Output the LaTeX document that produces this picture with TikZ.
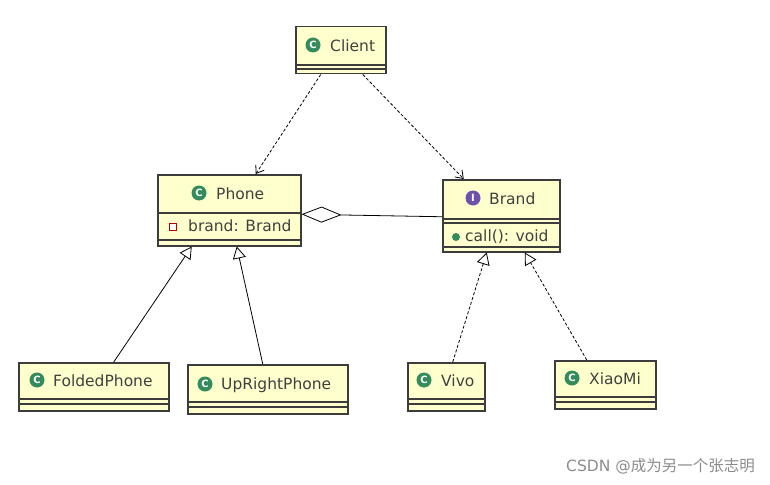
\documentclass[tikz,border=0pt]{standalone}
\usepackage{fontspec}
\setmainfont{DejaVu Sans}
\newfontfamily\cjk{Noto Sans CJK SC}
\usetikzlibrary{arrows.meta}
\definecolor{umlfill}{RGB}{255,255,206}
\definecolor{umlline}{RGB}{60,60,60}
\definecolor{cicon}{RGB}{52,140,92}
\definecolor{iicon}{RGB}{110,80,170}
\tikzset{
  box/.style={draw=umlline, fill=umlfill, line width=1.5pt, inner sep=0pt, anchor=north west},
  bar/.style={draw=umlline, line width=1.2pt},
  lbl/.style={font=\fontsize{15.5}{17}\selectfont, text=black!75, anchor=west, inner sep=0pt},
  icon/.style={circle, fill=#1, inner sep=0pt, minimum size=15pt, text=white, font=\bfseries\fontsize{10}{10}\selectfont},
  dep/.style={densely dashed, line width=0.8pt, -{Straight Barb[length=7pt,width=10pt]}},
  gen/.style={line width=0.8pt, -{Triangle[open,length=12pt,width=13pt,fill=white]}},
  real/.style={gen, densely dashed}
}
\begin{document}
\begin{tikzpicture}[x=1pt,y=-1pt]
\useasboundingbox (0,0) rectangle (770,484);
% classes
\node[box, minimum width=90, minimum height=47] (client) at (295,26) {};
\draw[bar] (295,65) -- (385,65) (295,69) -- (385,69);
\node[icon=cicon] at (313,45) {C};
\node[lbl] at (330,46) {Client};
\node[box, minimum width=143, minimum height=71] (phone) at (157,174) {};
\draw[bar] (157,213) -- (300,213) (157,240) -- (300,240);
\node[icon=cicon] at (199,193) {C};
\node[lbl] at (216,194) {Phone};
\draw[red!70!black, fill=white, line width=0.8pt] (169,223) rectangle (176,230);
\node[lbl] at (188,226) {brand: Brand};
\node[box, minimum width=117, minimum height=72] (brand) at (442,179) {};
\draw[bar] (442,219) -- (559,219) (442,223) -- (559,223) (442,247) -- (559,247);
\node[icon=iicon] at (473,198) {I};
\node[lbl] at (489,199) {Brand};
\fill[cicon] (456,237) circle (4);
\node[lbl] at (465,237) {call(): void};
\node[box, minimum width=150, minimum height=48] (folded) at (18,362) {};
\draw[bar] (18,399) -- (168,399) (18,404) -- (168,404);
\node[icon=cicon] at (37,380) {C};
\node[lbl] at (53,381) {FoldedPhone};
\node[box, minimum width=160, minimum height=49] (upright) at (187,364) {};
\draw[bar] (187,402) -- (347,402) (187,407) -- (347,407);
\node[icon=cicon] at (205,384) {C};
\node[lbl] at (221,385) {UpRightPhone};
\node[box, minimum width=77, minimum height=48] (vivo) at (407,362) {};
\draw[bar] (407,399) -- (484,399) (407,404) -- (484,404);
\node[icon=cicon] at (424,380) {C};
\node[lbl] at (441,381) {Vivo};
\node[box, minimum width=101, minimum height=48] (xiaomi) at (554,360) {};
\draw[bar] (554,397) -- (655,397) (554,402) -- (655,402);
\node[icon=cicon] at (572,378) {C};
\node[lbl] at (589,379) {XiaoMi};
% connectors
\draw[dep] ([xshift=-20]client.south) -- ([xshift=26.5]phone.north);
\draw[dep] ([xshift=22]client.south) -- ([xshift=-37.5]brand.north);
\draw[line width=0.8pt, {Diamond[open,length=40pt,width=16pt,fill=white]}-] ([yshift=-4]phone.east) -- ([yshift=-1]brand.west);
\draw[gen] ([xshift=20]folded.north) -- ([xshift=-37.5]phone.south);
\draw[gen] ([xshift=-5]upright.north) -- ([xshift=7.5]phone.south);
\draw[real] ([xshift=6.5]vivo.north) -- ([xshift=-14.5]brand.south);
\draw[real] ([xshift=-18.5]xiaomi.north) -- ([xshift=23.5]brand.south);
% watermark
\node[anchor=east, text=black!45, inner sep=0pt, font=\fontsize{15.5}{17}\selectfont] (mark) at (755,466) {CSDN @{\cjk 成为另一个张志明}};
\end{tikzpicture}
\end{document}
